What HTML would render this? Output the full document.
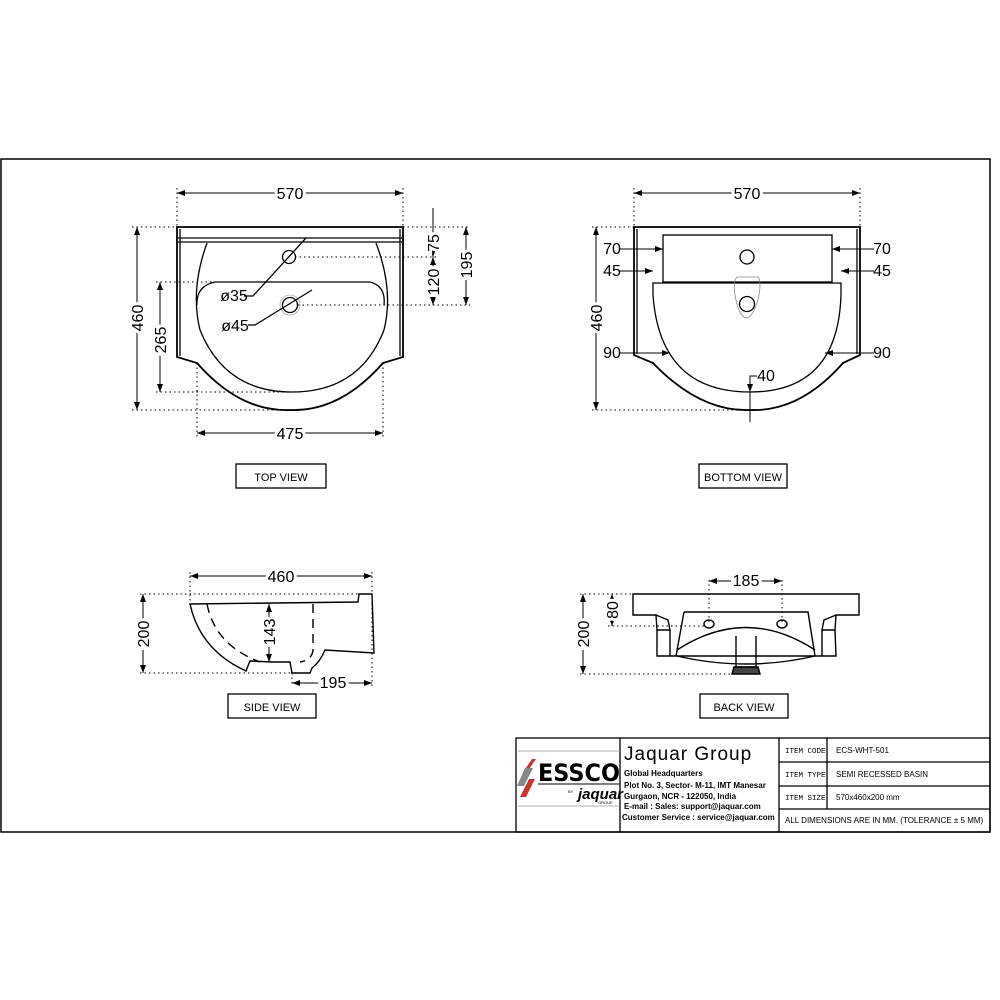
<!DOCTYPE html>
<html><head><meta charset="utf-8"><style>
html,body{margin:0;padding:0;background:#fff;}
svg{display:block;font-family:"Liberation Sans",sans-serif;}
</style></head><body>
<svg width="1000" height="1000" viewBox="0 0 1000 1000" xmlns="http://www.w3.org/2000/svg">
<defs>
<marker id="a" markerWidth="8" markerHeight="6" refX="8" refY="3" orient="auto-start-reverse" markerUnits="userSpaceOnUse"><path d="M0,0 L8,3 L0,6 z" fill="#000"/></marker>
</defs>
<rect x="0" y="0" width="1000" height="1000" fill="#fff"/>
<rect x="1" y="159" width="989" height="673" fill="none" stroke="#000" stroke-width="1.5"/>

<g fill="none" stroke="#000" stroke-width="1.3">
<path d="M177,227 L403,227 L403,357 L383,363 Q340,412 290,410 Q240,412 197,363 L177,357 Z" stroke-width="1.8"/>
<line x1="178" y1="238" x2="402" y2="238"/><line x1="178" y1="242" x2="402" y2="242"/>
<line x1="180" y1="229" x2="180" y2="356"/><line x1="400" y1="229" x2="400" y2="356"/>
<path d="M207,243 Q190,290 200,330 Q225,392 292,392 Q360,392 384,330 Q394,290 376,243"/>
<path d="M215,282 L370,282 Q386,286 384,305 M215,282 Q196,286 197,305"/>
<circle cx="289" cy="257" r="6.5"/>
<circle cx="290" cy="305" r="7.5"/>
<circle cx="290" cy="305" r="10" stroke="#aaa" stroke-width="0.8"/>
<path d="M306,238 L253,296 L244,296"/>
<path d="M312,290 L255,325 L248,325"/>
</g>
<g fill="none" stroke="#000" stroke-width="1" stroke-dasharray="1.5,3">
<line x1="177" y1="188" x2="177" y2="227"/><line x1="403" y1="188" x2="403" y2="227"/>
<line x1="132" y1="227" x2="177" y2="227"/><line x1="403" y1="227" x2="470" y2="227"/>
<line x1="132" y1="410" x2="290" y2="410"/>
<line x1="156" y1="282" x2="215" y2="282"/><line x1="156" y1="392" x2="292" y2="392"/>
<line x1="197" y1="363" x2="197" y2="437"/><line x1="383" y1="363" x2="383" y2="437"/>
<line x1="295" y1="257" x2="437" y2="257"/><line x1="298" y1="305" x2="470" y2="305"/>
</g>
<g stroke="#000" stroke-width="1">
<line x1="177" y1="193" x2="403" y2="193" marker-start="url(#a)" marker-end="url(#a)"/>
<line x1="137" y1="227" x2="137" y2="410" marker-start="url(#a)" marker-end="url(#a)"/>
<line x1="160" y1="282" x2="160" y2="392" marker-start="url(#a)" marker-end="url(#a)"/>
<line x1="197" y1="433" x2="383" y2="433" marker-start="url(#a)" marker-end="url(#a)"/>
<line x1="433" y1="208" x2="433" y2="257" marker-end="url(#a)"/>
<line x1="433" y1="257" x2="433" y2="305" marker-start="url(#a)" marker-end="url(#a)"/>
<line x1="466" y1="227" x2="466" y2="305" marker-start="url(#a)" marker-end="url(#a)"/>
</g>
<g font-size="16" text-anchor="middle" fill="#000">
<text x="290" y="199" style="paint-order:stroke" stroke="#fff" stroke-width="6">570</text>
<text x="290" y="439" style="paint-order:stroke" stroke="#fff" stroke-width="6">475</text>
<text transform="translate(143,318) rotate(-90)" style="paint-order:stroke" stroke="#fff" stroke-width="6">460</text>
<text transform="translate(166,340) rotate(-90)" style="paint-order:stroke" stroke="#fff" stroke-width="6">265</text>
<text transform="translate(439,243) rotate(-90)" style="paint-order:stroke" stroke="#fff" stroke-width="6">75</text>
<text transform="translate(439,282) rotate(-90)" style="paint-order:stroke" stroke="#fff" stroke-width="6">120</text>
<text transform="translate(472,265) rotate(-90)" style="paint-order:stroke" stroke="#fff" stroke-width="6">195</text>
<text x="234" y="301">ø35</text>
<text x="235" y="331">ø45</text>
</g>

<g fill="none" stroke="#000" stroke-width="1.3">
<path d="M634,227 L860,227 L860,355 L843,363 Q800,412 750,410 Q700,412 653,363 L634,355 Z" stroke-width="1.8"/>
<line x1="637" y1="229" x2="637" y2="354"/><line x1="857" y1="229" x2="857" y2="354"/>
<rect x="663" y="235" width="169" height="47"/>
<circle cx="747" cy="257" r="7"/>
<path d="M653,283 L841,283 L841,295 Q838,392 750,392 Q660,392 653,295 Z"/>
<path d="M737,277 L758,277 Q762,282 758,300 Q752,318 747,318 Q740,318 736,300 Q732,282 737,277" stroke="#888" stroke-width="0.8"/>
<circle cx="747" cy="304" r="7.5"/>
</g>
<g fill="none" stroke="#000" stroke-width="1" stroke-dasharray="1.5,3">
<line x1="634" y1="188" x2="634" y2="227"/><line x1="860" y1="188" x2="860" y2="227"/>
<line x1="592" y1="227" x2="634" y2="227"/><line x1="592" y1="410" x2="750" y2="410"/>
</g>
<g stroke="#000" stroke-width="1">
<line x1="634" y1="193" x2="860" y2="193" marker-start="url(#a)" marker-end="url(#a)"/>
<line x1="596" y1="227" x2="596" y2="410" marker-start="url(#a)" marker-end="url(#a)"/>
<line x1="620" y1="249" x2="663" y2="249" marker-end="url(#a)"/><line x1="874" y1="249" x2="832" y2="249" marker-end="url(#a)"/>
<line x1="620" y1="271" x2="653" y2="271" marker-end="url(#a)"/><line x1="874" y1="271" x2="841" y2="271" marker-end="url(#a)"/>
<line x1="620" y1="353" x2="670" y2="353" marker-end="url(#a)"/><line x1="874" y1="353" x2="825" y2="353" marker-end="url(#a)"/>
<polyline points="757,376 750,376 750,422" fill="none"/>
<line x1="750" y1="380" x2="750" y2="392" marker-end="url(#a)"/>
</g>
<g font-size="16" text-anchor="middle" fill="#000">
<text x="747" y="199" style="paint-order:stroke" stroke="#fff" stroke-width="6">570</text>
<text transform="translate(602,318) rotate(-90)" style="paint-order:stroke" stroke="#fff" stroke-width="6">460</text>
<text x="612" y="254">70</text><text x="882" y="254">70</text>
<text x="612" y="276">45</text><text x="882" y="276">45</text>
<text x="612" y="358">90</text><text x="882" y="358">90</text>
<text x="766" y="381">40</text>
</g>

<g fill="none" stroke="#000" stroke-width="1.4">
<path d="M190,604 L358,602 L359,594 L372,594 L374,653 L325,650 Q320,662 312,668 L310,673 L292,673 L290,662 L277,662 L273,662 L250,661 L246,671 Q200,650 190,604 Z"/>
<path d="M207,604 Q215,645 260,662" stroke-dasharray="9,6"/>
<path d="M313,604 L313,650 Q312,660 300,662" stroke-dasharray="9,6"/>
</g>
<g fill="none" stroke="#000" stroke-width="1" stroke-dasharray="1.5,3">
<line x1="190" y1="572" x2="190" y2="604"/><line x1="372" y1="572" x2="372" y2="686"/>
<line x1="140" y1="594" x2="359" y2="594"/><line x1="140" y1="673" x2="292" y2="673"/>
<line x1="292" y1="673" x2="292" y2="686"/>
</g>
<g stroke="#000" stroke-width="1">
<line x1="190" y1="576" x2="372" y2="576" marker-start="url(#a)" marker-end="url(#a)"/>
<line x1="143" y1="594" x2="143" y2="673" marker-start="url(#a)" marker-end="url(#a)"/>
<line x1="269" y1="604" x2="269" y2="662" marker-start="url(#a)" marker-end="url(#a)"/>
<line x1="292" y1="683" x2="372" y2="683" marker-start="url(#a)" marker-end="url(#a)"/>
</g>
<g font-size="16" text-anchor="middle" fill="#000">
<text x="281" y="582" style="paint-order:stroke" stroke="#fff" stroke-width="6">460</text>
<text transform="translate(149,634) rotate(-90)" style="paint-order:stroke" stroke="#fff" stroke-width="6">200</text>
<text transform="translate(275,632) rotate(-90)" style="paint-order:stroke" stroke="#fff" stroke-width="6">143</text>
<text x="333" y="688" style="paint-order:stroke" stroke="#fff" stroke-width="6">195</text>
</g>

<g fill="none" stroke="#000" stroke-width="1.4">
<path d="M633,594 L859,594 L859,615 L836,615 L835,630 L836,656 L657,656 L657,630 L656,615 L633,615 Z"/>
<path d="M656,615 L668,620 L670,630 L657,630"/>
<path d="M836,615 L824,620 L822,630 L835,630"/>
<line x1="670" y1="630" x2="670" y2="656"/><line x1="822" y1="630" x2="822" y2="656"/>
<path d="M684,612 L808,612 L815,656 M684,612 L676,656"/>
<path d="M677,650 Q746,605 815,650"/>
<path d="M677,656 Q746,672 815,656"/>
<path d="M736,636 L736,667 L756,667 L756,636"/>
<path d="M734,667 L758,667 L760,674 L732,674 Z" fill="#444"/>
<ellipse cx="709" cy="624" rx="5" ry="4"/><ellipse cx="782" cy="624" rx="5" ry="4"/>
</g>
<g fill="none" stroke="#000" stroke-width="1" stroke-dasharray="1.5,3">
<line x1="709" y1="580" x2="709" y2="624"/><line x1="782" y1="580" x2="782" y2="624"/>
<line x1="580" y1="594" x2="633" y2="594"/><line x1="608" y1="626" x2="704" y2="626"/>
<line x1="580" y1="674" x2="732" y2="674"/>
</g>
<g stroke="#000" stroke-width="1">
<line x1="709" y1="581" x2="782" y2="581" marker-start="url(#a)" marker-end="url(#a)"/>
<line x1="583" y1="594" x2="583" y2="674" marker-start="url(#a)" marker-end="url(#a)"/>
<line x1="612" y1="594" x2="612" y2="626" marker-start="url(#a)" marker-end="url(#a)"/>
</g>
<g font-size="16" text-anchor="middle" fill="#000">
<text x="746" y="586" style="paint-order:stroke" stroke="#fff" stroke-width="6">185</text>
<text transform="translate(589,634) rotate(-90)" style="paint-order:stroke" stroke="#fff" stroke-width="6">200</text>
<text transform="translate(618,610) rotate(-90)" style="paint-order:stroke" stroke="#fff" stroke-width="6">80</text>
</g>

<g fill="none" stroke="#000" stroke-width="1.3">
<rect x="236" y="464" width="90" height="24"/><rect x="699" y="464" width="88" height="24"/>
<rect x="228" y="694" width="88" height="24"/><rect x="700" y="694" width="88" height="24"/>
</g>
<g font-size="11" text-anchor="middle" fill="#000">
<text x="281" y="481">TOP VIEW</text><text x="743" y="481">BOTTOM VIEW</text>
<text x="272" y="711">SIDE VIEW</text><text x="744" y="711">BACK VIEW</text>
</g>

<g fill="none" stroke="#000" stroke-width="1.3">
<rect x="516" y="738" width="474" height="94"/>
<line x1="620" y1="738" x2="620" y2="832"/><line x1="779" y1="738" x2="779" y2="832"/>
<line x1="827" y1="738" x2="827" y2="809"/>
<line x1="779" y1="762" x2="990" y2="762"/><line x1="779" y1="786" x2="990" y2="786"/><line x1="779" y1="809" x2="990" y2="809"/>
<line x1="518" y1="751" x2="620" y2="751" stroke="#999" stroke-width="0.7"/>
<line x1="518" y1="806" x2="620" y2="806" stroke="#999" stroke-width="0.7"/>
</g>
<polygon points="532,759 536,759 527,772 523,772" fill="#c33"/>
<polygon points="525,768 533,768 524,786 517,786" fill="#888"/>
<polygon points="529,779 535,779 526,797 520,797" fill="#c33"/>
<text x="538" y="781" font-size="24" font-weight="bold" fill="#000" font-family="'DejaVu Sans',sans-serif" textLength="82" lengthAdjust="spacingAndGlyphs">ESSCO</text>
<line x1="538" y1="784" x2="620" y2="784" stroke="#000"/>
<text x="568" y="793" font-size="4" fill="#000">BY</text>
<text x="578" y="799" font-size="15" font-style="italic" font-weight="bold" fill="#000">jaquar</text>
<text x="598" y="804" font-size="4" fill="#000">GROUP</text>
<text x="624" y="760" font-size="19" fill="#000" letter-spacing="1">Jaquar Group</text>
<g font-size="8" font-weight="bold" fill="#000">
<text x="624" y="776">Global Headquarters</text>
<text x="624" y="788">Plot No. 3, Sector- M-11, IMT Manesar</text>
<text x="624" y="799">Gurgaon, NCR - 122050, India</text>
<text x="624" y="809">E-mail : Sales: support@jaquar.com</text>
<text x="622" y="820">Customer Service : service@jaquar.com</text>
</g>
<g font-size="7.5" fill="#000" font-family="'Liberation Mono',monospace">
<text x="785" y="753">ITEM CODE</text><text x="785" y="777">ITEM TYPE</text><text x="785" y="800">ITEM SIZE</text>
</g>
<g font-size="8" fill="#000">
<text x="836" y="753">ECS-WHT-501</text><text x="836" y="777">SEMI RECESSED BASIN</text><text x="836" y="800">570x460x200  mm</text>
<text x="785" y="823">ALL DIMENSIONS ARE IN MM. (TOLERANCE ± 5 MM)</text>
</g>
</svg>
</body></html>
